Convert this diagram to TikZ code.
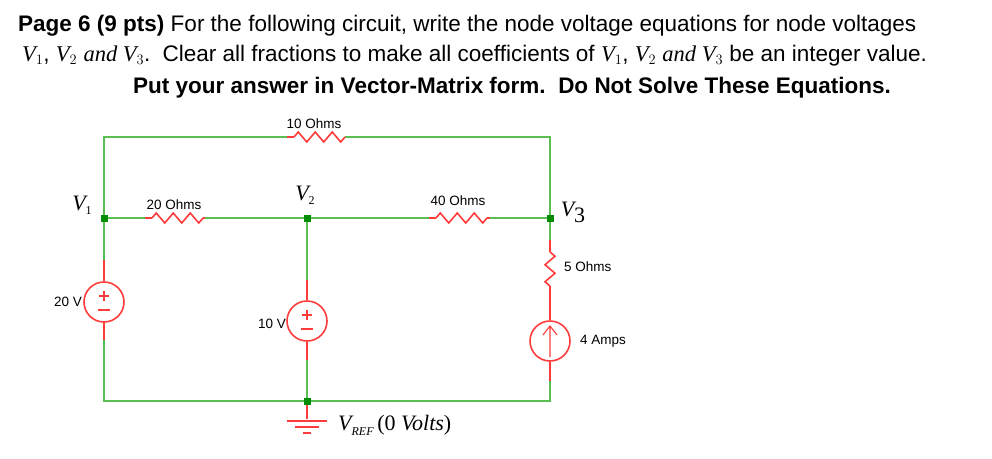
\documentclass[tikz,border=0pt]{standalone}
\usepackage{fontspec}
\setmainfont{Liberation Sans}
\newfontfamily\serf{Liberation Serif}
\usetikzlibrary{decorations.pathmorphing}
\definecolor{wg}{RGB}{90,190,80}
\definecolor{wr}{RGB}{255,60,60}
\definecolor{dg}{RGB}{0,140,0}
\begin{document}
\begin{tikzpicture}[x=1pt,y=-1pt,
  wire/.style={draw=wg, line width=1.6pt},
  comp/.style={draw=wr, line width=1.6pt},
  res/.style={comp, decorate, decoration={zigzag, segment length=17pt, amplitude=5pt}},
  dot/.style={fill=dg, minimum size=7pt, inner sep=0pt},
  lab/.style={font=\fontsize{13.5}{16}\selectfont, inner sep=1pt},
  vl/.style={font=\serf\itshape\fontsize{22}{24}\selectfont, inner sep=0pt},
  ttl/.style={font=\fontsize{22.5}{26}\selectfont, inner sep=0pt, anchor=base west}]
\useasboundingbox (0,0) rectangle (992,458);
% title
\node[ttl] (t1) at (18,31) {\textbf{Page 6 (9 pts)} For the following circuit, write the node voltage equations for node voltages};
\node[ttl] (t2) at (22,61) {{\serf\itshape V}$_1$, {\serf\itshape V}$_2$ {\serf\itshape and V}$_3$.\, Clear all fractions to make all coefficients of {\serf\itshape V}$_1$, {\serf\itshape V}$_2$ {\serf\itshape and V}$_3$ be an integer value.};
\node[ttl, font=\bfseries\fontsize{22.5}{26}\selectfont, anchor=base] (t3) at (512,93) {Put your answer in Vector-Matrix form.\ \ Do Not Solve These Equations.};
% coordinates
\coordinate (tl) at (104,137); \coordinate (tr) at (550,137);
\coordinate (bl) at (104,401); \coordinate (br) at (550,401);
% resistors coords
\coordinate (r10a) at (287,137); \coordinate (r10b) at (345,137);
\coordinate (r20a) at (145,218); \coordinate (r20b) at (205,218);
\coordinate (r40a) at (429,218); \coordinate (r40b) at (490,218);
\coordinate (r5a) at (550,240); \coordinate (r5b) at (550,290);
% wires
\draw[wire] (104,218) -- (tl) -- (r10a); \draw[wire] (r10b) -- (tr) -- (550,218);
\draw[wire] (104,218) -- (r20a); \draw[wire] (r20b) -- (429,218); \draw[wire] (r40b) -- (550,218);
\draw[wire] (550,218) -- (r5a);
\draw[wire] (104,218) -- (104,260); \draw[wire] (104,340) -- (bl) -- (br) -- (550,381);
\draw[wire] (307,218) -- (307,280); \draw[wire] (307,360) -- (307,401);
% resistors
\draw[comp] (r10a) -- (294,137); \draw[res] (294,137) -- (345,137);
\draw[comp] (r20a) -- (152,218); \draw[res] (152,218) -- (203,218); \draw[comp] (203,218)--(r20b);
\draw[comp] (r40a) -- (436,218); \draw[res] (436,218) -- (487,218); \draw[comp] (487,218)--(r40b);
\draw[comp] (r5a) -- (550,252); \draw[res] (550,252) -- (550,286); \draw[comp] (550,286) -- (550,300);
% nodes
\node[dot] (n1) at (104,218) {}; \node[dot] (n2) at (307,218) {};
\node[dot] (n3) at (550,218) {}; \node[dot] (n0) at (307,401) {};
% sources
\node[comp, circle, minimum size=40pt, inner sep=0pt] (s20) at (104,302) {};
\draw[comp] (104,260) -- (s20.north); \draw[comp] (s20.south) -- (104,340);
\draw[wr, line width=1.1pt] (99,296)--(109,296) (104,291)--(104,301) (98,310)--(110,310);
\node[comp, circle, minimum size=40pt, inner sep=0pt] (s10) at (307,321) {};
\draw[comp] (307,280) -- (s10.north); \draw[comp] (s10.south) -- (307,360);
\draw[wr, line width=1.1pt] (302,315)--(312,315) (307,310)--(307,320) (301,329)--(313,329);
\node[comp, circle, minimum size=40pt, inner sep=0pt] (s4) at (550,341) {};
\draw[comp] (550,300) -- (s4.north); \draw[comp] (s4.south) -- (550,381);
\draw[wr, line width=1.1pt] (550,357) -- (550,326) (543,335) -- (550,326) -- (557,335);
% ground
\draw[comp] (n0) -- (307,419);
\draw[wr, line width=1.3pt] (287,421)--(327,421) (295,427)--(319,427) (303,433)--(311,433);
% labels
\node[lab] (l10) at (314,124) {10 Ohms};
\node[lab] (l20) at (174,205) {20 Ohms};
\node[lab] (l40) at (458,201) {40 Ohms};
\node[lab, anchor=west] (l5) at (563,267) {5 Ohms};
\node[lab, anchor=east] (l20v) at (83,302) {20 V};
\node[lab, anchor=east] (l10v) at (287,324) {10 V};
\node[lab, anchor=west] (l4) at (579,341) {4 Amps};
\node[vl] (v1) at (82,205) {V\raisebox{-4pt}{\fontsize{12}{12}\selectfont\upshape 1}};
\node[vl] (v2) at (305,195) {V\raisebox{-4pt}{\fontsize{12}{12}\selectfont\upshape 2}};
\node[vl] (v3) at (573,212) {V\raisebox{-6pt}{\upshape 3}};
\node[vl, anchor=west] (vr) at (338,425) {V\raisebox{-5pt}{\fontsize{12}{12}\selectfont REF}\,\upshape(0 \itshape Volts\upshape)};
\end{tikzpicture}
\end{document}
